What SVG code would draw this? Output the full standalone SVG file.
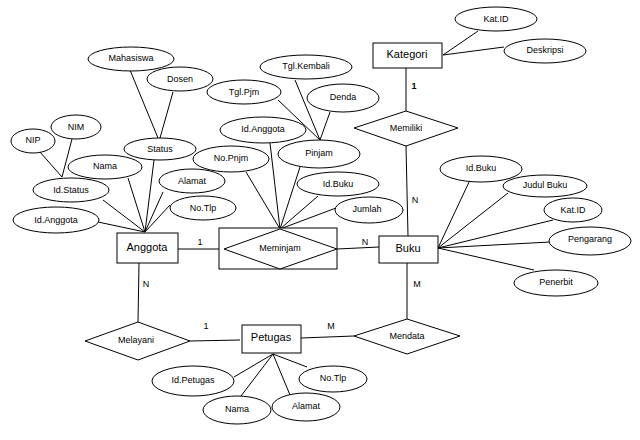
<svg xmlns="http://www.w3.org/2000/svg" width="640" height="440" viewBox="0 0 640 440">
<style>
.s{fill:#fff;stroke:#000;stroke-width:1}
.l{stroke:#000;stroke-width:1;fill:none}
text{font-family:"Liberation Sans",Arial,sans-serif;font-size:9px;text-anchor:middle;dominant-baseline:middle;fill:#000}
.b{font-size:11px}
.c{font-size:9px}
</style>
<rect width="640" height="440" fill="#fff"/>
<g id="connectors">
<path class="l" d="M158,138L130,70M160,138L173,92M62,177L40,152M62,177L72,139M145,232L154,160M145,232L128,178M145,232L103,200M145,232L163,192M145,232L170,205M145,232L98,222M280,229L246,172M280,229L270,143M280,229L300,167M280,229L318,196M280,229L336,208M320,140L278,100M320,140L295,80M320,140L330,112M443,55L478,31M443,55L504,47M406,68L406,111M406,146L408,236M178,249L224,249M337,249L379,247M438,248L470,180M438,248L508,193M438,248L553,220M438,248L550,242M438,248L534,270M139,263L138,322M190,341L240,340M301,338L354,336M407,263L407,319M273,354L234,377M273,354L241,396M273,354L290,395M273,354L307,367"/>
<text x="200" y="243">1</text><text x="365" y="243">N</text>
<text x="414" y="87" style="font-weight:bold">1</text><text x="415" y="201">N</text>
<text x="146" y="285">N</text><text x="206" y="327">1</text>
<text x="331" y="327">M</text><text x="417" y="285">M</text>
</g>
<g id="Anggota"><rect class="s" x="117" y="233" width="61" height="30"/><text class="b" x="147" y="248">Anggota</text></g>
<g id="Meminjam"><rect class="s" x="219" y="228" width="118" height="41"/><polygon class="s" points="224,249 280,229 337,249 280,269"/><text x="280" y="249">Meminjam</text></g>
<g id="Buku"><rect class="s" x="379" y="236" width="59" height="27"/><text class="b" x="408" y="249">Buku</text></g>
<g id="Kategori"><rect class="s" x="373" y="43" width="69" height="25"/><text class="b" x="407" y="55">Kategori</text></g>
<g id="Petugas"><rect class="s" x="242" y="325" width="59" height="28"/><text class="b" x="271" y="338">Petugas</text></g>
<g id="Memiliki"><polygon class="s" points="354,128 406,111 458,128 406,146"/><text x="406" y="129">Memiliki</text></g>
<g id="Melayani"><polygon class="s" points="85,341 138,322 190,341 138,360"/><text x="136" y="341">Melayani</text></g>
<g id="Mendata"><polygon class="s" points="354,336 407,319 460,336 407,354"/><text x="407" y="337">Mendata</text></g>
<g id="a-mahasiswa"><ellipse class="s" cx="131" cy="59" rx="43" ry="12"/><text x="131" y="59">Mahasiswa</text></g>
<g id="a-dosen"><ellipse class="s" cx="180" cy="79" rx="33" ry="12"/><text x="180" y="80">Dosen</text></g>
<g id="a-nip"><ellipse class="s" cx="33" cy="141" rx="22" ry="12"/><text x="33" y="141">NIP</text></g>
<g id="a-nim"><ellipse class="s" cx="76" cy="127" rx="25" ry="12"/><text x="76" y="128">NIM</text></g>
<g id="a-status"><ellipse class="s" cx="160" cy="149" rx="36" ry="11"/><text x="160" y="150">Status</text></g>
<g id="a-nama"><ellipse class="s" cx="105" cy="167" rx="37" ry="12"/><text x="105" y="167">Nama</text></g>
<g id="a-idstatus"><ellipse class="s" cx="71" cy="190" rx="38" ry="12"/><text x="71" y="191">Id.Status</text></g>
<g id="a-alamat"><ellipse class="s" cx="192" cy="181" rx="33" ry="12"/><text x="192" y="182">Alamat</text></g>
<g id="a-notlp"><ellipse class="s" cx="203" cy="208" rx="33" ry="12"/><text x="203" y="209">No.Tlp</text></g>
<g id="a-idanggota"><ellipse class="s" cx="56" cy="220" rx="43" ry="13"/><text x="56" y="221">Id.Anggota</text></g>
<g id="a-tglkembali"><ellipse class="s" cx="306" cy="67" rx="46" ry="12"/><text x="306" y="67">Tgl.Kembali</text></g>
<g id="a-tglpjm"><ellipse class="s" cx="244" cy="92" rx="37" ry="12"/><text x="244" y="93">Tgl.Pjm</text></g>
<g id="a-denda"><ellipse class="s" cx="343" cy="98" rx="36" ry="14"/><text x="343" y="98">Denda</text></g>
<g id="m-idanggota"><ellipse class="s" cx="263" cy="130" rx="43" ry="13"/><text x="263" y="130">Id.Anggota</text></g>
<g id="m-pinjam"><ellipse class="s" cx="319" cy="154" rx="41" ry="14"/><text x="319" y="154">Pinjam</text></g>
<g id="m-nopnjm"><ellipse class="s" cx="231" cy="159" rx="38" ry="13"/><text x="231" y="159">No.Pnjm</text></g>
<g id="m-idbuku"><ellipse class="s" cx="338" cy="184" rx="41" ry="12"/><text x="338" y="185">Id.Buku</text></g>
<g id="m-jumlah"><ellipse class="s" cx="369" cy="210" rx="34" ry="13"/><text x="367" y="210">Jumlah</text></g>
<g id="k-katid"><ellipse class="s" cx="496" cy="19" rx="41" ry="12"/><text x="496" y="20">Kat.ID</text></g>
<g id="k-deskripsi"><ellipse class="s" cx="545" cy="51" rx="41" ry="12"/><text x="545" y="51">Deskripsi</text></g>
<g id="b-idbuku"><ellipse class="s" cx="481" cy="169" rx="41" ry="13"/><text x="481" y="169">Id.Buku</text></g>
<g id="b-judul"><ellipse class="s" cx="545" cy="186" rx="42" ry="11"/><text x="545" y="186">Judul Buku</text></g>
<g id="b-katid"><ellipse class="s" cx="573" cy="210" rx="29" ry="12"/><text x="573" y="211">Kat.ID</text></g>
<g id="b-pengarang"><ellipse class="s" cx="590" cy="241" rx="41" ry="14"/><text x="590" y="240">Pengarang</text></g>
<g id="b-penerbit"><ellipse class="s" cx="556" cy="283" rx="42" ry="13"/><text x="556" y="283">Penerbit</text></g>
<g id="p-idpetugas"><ellipse class="s" cx="193" cy="381" rx="41" ry="15"/><text x="193" y="381">Id.Petugas</text></g>
<g id="p-nama"><ellipse class="s" cx="237" cy="410" rx="34" ry="14"/><text x="237" y="410">Nama</text></g>
<g id="p-alamat"><ellipse class="s" cx="306" cy="407" rx="34" ry="14"/><text x="306" y="407">Alamat</text></g>
<g id="p-notlp"><ellipse class="s" cx="333" cy="379" rx="34" ry="13"/><text x="333" y="379">No.Tlp</text></g>
</svg>
